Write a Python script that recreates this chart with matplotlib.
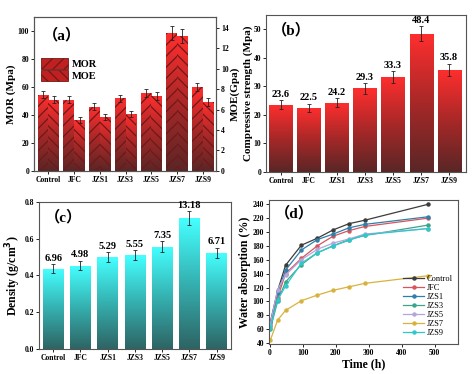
import numpy as np
import matplotlib
matplotlib.use("Agg")
import matplotlib.pyplot as plt
from matplotlib.colors import LinearSegmentedColormap
from matplotlib.patches import Patch

plt.rcParams['font.family'] = ['Liberation Serif', 'Noto Sans CJK SC', 'DejaVu Sans']
plt.rcParams['font.weight'] = 'bold'
plt.rcParams['axes.labelweight'] = 'bold'
plt.rcParams['hatch.linewidth'] = 0.9

categories = ['Control', 'JFC', 'JZS1', 'JZS3', 'JZS5', 'JZS7', 'JZS9']

# (a)
mor = [54.5, 51.0, 46.0, 52.0, 55.8, 98.5, 59.8]
mor_err = [2.5, 2.5, 2.3, 2.5, 2.8, 5.0, 3.0]
moe = [6.96, 4.98, 5.29, 5.55, 7.35, 13.18, 6.71]
moe_err = [0.35, 0.25, 0.28, 0.3, 0.38, 0.65, 0.38]

# (b)
comp = [23.6, 22.5, 24.2, 29.3, 33.3, 48.4, 35.8]
comp_err = [1.5, 1.4, 1.6, 1.8, 2.0, 2.6, 2.0]

# (c)
density = [0.436, 0.454, 0.499, 0.510, 0.557, 0.711, 0.523]
density_err = [0.025, 0.025, 0.028, 0.028, 0.03, 0.038, 0.027]
density_labels = ['6.96', '4.98', '5.29', '5.55', '7.35', '13.18', '6.71']

# (d)
time_h = [2, 24, 48, 96, 144, 192, 240, 288, 480]
water = {
    'Control': [70, 115, 152, 181, 191, 203, 212, 217, 240],
    'JFC':     [65, 105, 140, 162, 180, 194, 202, 208, 220],
    'JZS1':    [68, 112, 145, 174, 189, 197, 206, 211, 222],
    'JZS3':    [60, 100, 128, 153, 170, 180, 189, 195, 210],
    'JZS5':    [68, 117, 138, 160, 175, 184, 190, 197, 205],
    'JZS7':    [44, 73, 87, 101, 109, 116, 121, 126, 137],
    'JZS9':    [62, 102, 122, 155, 170, 180, 188, 196, 205],
}
water_colors = {
    'Control': '#3c3c3c', 'JFC': '#d9545c', 'JZS1': '#2f7fa8', 'JZS3': '#3aa58c',
    'JZS5': '#b4a6dc', 'JZS7': '#d9b23e', 'JZS9': '#2ec9c9',
}

red_cmap = LinearSegmentedColormap.from_list('r', ['#5a2626', '#a82828', '#ff2e2e'])
cyan_cmap = LinearSegmentedColormap.from_list('c', ['#2e6464', '#35b0b0', '#45ffff'])

fig = plt.figure(figsize=(4.74, 3.74), dpi=100)

def grad_bars(ax, x, h, width, cmap, hatch=None, hatch_color=None):
    grad = np.linspace(0, 1, 100).reshape(-1, 1)
    bars = ax.bar(x, h, width=width, color='none', edgecolor='none', zorder=2)
    for b in bars:
        x0, w, hh = b.get_x(), b.get_width(), b.get_height()
        im = ax.imshow(grad, cmap=cmap, origin='lower', aspect='auto',
                       extent=(x0, x0 + w, 0, hh), zorder=1)
        im.set_clip_path(b)
        if hatch:
            ax.bar(x0 + w / 2, hh, width=w, color='none', edgecolor=hatch_color,
                   hatch=hatch, linewidth=0, zorder=2)
    return bars

def style(ax, fs=5.5):
    for s in ax.spines.values():
        s.set_color('#555555')
        s.set_linewidth(0.8)
    ax.tick_params(labelsize=fs, width=0.6, length=2, pad=1.5)
    for lab in ax.get_xticklabels() + ax.get_yticklabels():
        lab.set_fontweight('bold')

x = np.arange(len(categories))

# ---- (a)
ax1 = fig.add_axes([0.0717, 0.543, 0.3843, 0.4115])
ax1b = ax1.twinx()
w = 0.42
grad_bars(ax1, x - w / 2, mor, w, red_cmap, hatch='///', hatch_color='#701818')
ax1.errorbar(x - w / 2, mor, yerr=mor_err, fmt='none', ecolor='#222222',
             elinewidth=0.6, capsize=1.5, capthick=0.6, zorder=3)
grad_bars(ax1b, x + w / 2, moe, w, red_cmap, hatch='\\\\\\', hatch_color='#701818')
ax1b.errorbar(x + w / 2, moe, yerr=moe_err, fmt='none', ecolor='#222222',
              elinewidth=0.6, capsize=1.5, capthick=0.6, zorder=3)
ax1.set_xlim(-0.56, 6.52)
ax1.set_ylim(0, 110)
ax1b.set_ylim(0, 15.05)
ax1.set_yticks([0, 20, 40, 60, 80, 100])
ax1b.set_yticks([0, 2, 4, 6, 8, 10, 12, 14])
ax1.set_xticks(x)
ax1.set_xticklabels(categories)
ax1.set_ylabel('MOR (Mpa)', fontsize=8, labelpad=1)
ax1b.set_ylabel('MOE(Gpa)', fontsize=8, labelpad=1)
style(ax1)
style(ax1b)
ax1.text(0.05, 0.93, '（a）', transform=ax1.transAxes, fontsize=11, fontweight='bold',
         va='top', ha='left')
h1 = Patch(facecolor='#c02020', edgecolor='#701818', hatch='///', linewidth=0.6)
h2 = Patch(facecolor='#c02020', edgecolor='#701818', hatch='\\\\\\', linewidth=0.6)
ax1.legend([h1, h2], ['MOR', 'MOE'], loc='upper left', bbox_to_anchor=(0.0, 0.78),
           frameon=False, prop={'weight': 'bold', 'size': 7.5},
           handlelength=2.6, handleheight=1.2, handletextpad=0.3, labelspacing=0.1,
           borderaxespad=0.3)

# ---- (b)
ax2 = fig.add_axes([0.561, 0.540, 0.422, 0.420])
grad_bars(ax2, x, comp, 0.82, red_cmap)
ax2.errorbar(x, comp, yerr=comp_err, fmt='none', ecolor='#222222',
             elinewidth=0.6, capsize=1.5, capthick=0.6, zorder=3)
for xi, v, e in zip(x, comp, comp_err):
    ax2.text(xi, v + e + 0.6, f'{v:.1f}', ha='center', va='bottom', fontsize=7.5,
             fontweight='bold')
ax2.set_xlim(-0.53, 6.6)
ax2.set_ylim(0, 55)
ax2.set_yticks([0, 10, 20, 30, 40, 50])
ax2.set_xticks(x)
ax2.set_xticklabels(categories)
ax2.set_ylabel('Compressive strength (Mpa)', fontsize=8, labelpad=0.5)
style(ax2)
ax2.text(0.03, 0.95, '（b）', transform=ax2.transAxes, fontsize=11, fontweight='bold',
         va='top', ha='left')

# ---- (c)
ax3 = fig.add_axes([0.0823, 0.0668, 0.4047, 0.3932])
grad_bars(ax3, x, density, 0.76, cyan_cmap)
ax3.errorbar(x, density, yerr=density_err, fmt='none', ecolor='#222222',
             elinewidth=0.6, capsize=1.5, capthick=0.6, zorder=3)
for xi, v, e, lab in zip(x, density, density_err, density_labels):
    ax3.text(xi, v + e + 0.008, lab, ha='center', va='bottom', fontsize=7.5,
             fontweight='bold')
ax3.set_xlim(-0.52, 6.52)
ax3.set_ylim(0, 0.8)
ax3.set_yticks([0.0, 0.2, 0.4, 0.6, 0.8])
ax3.set_xticks(x)
ax3.set_xticklabels(categories)
ax3.set_ylabel('Density (g/cm$^{\\mathbf{3}}$)', fontsize=8.5, labelpad=1)
style(ax3)
ax3.text(0.03, 0.95, '（c）', transform=ax3.transAxes, fontsize=11, fontweight='bold',
         va='top', ha='left')

# ---- (d)
ax4 = fig.add_axes([0.5675, 0.080, 0.3987, 0.385])
for name, vals in water.items():
    ax4.plot(time_h, vals, '-o', color=water_colors[name], markersize=2.2,
             linewidth=0.9, label=name)
ax4.set_xlim(-2, 570)
ax4.set_ylim(38.5, 246)
ax4.set_xticks([0, 100, 200, 300, 400, 500])
ax4.set_yticks(list(range(40, 241, 20)))
ax4.set_xlabel('Time (h)', fontsize=8.5, labelpad=1)
ax4.set_ylabel('Water absorption (%)', fontsize=8.5, labelpad=1)
style(ax4, fs=5.5)
ax4.text(0.03, 0.96, '（d）', transform=ax4.transAxes, fontsize=11, fontweight='bold',
         va='top', ha='left')
ax4.legend(loc='lower right', bbox_to_anchor=(1.0, 0.015), frameon=False,
           prop={'size': 6, 'weight': 'normal'},
           handlelength=2.6, handletextpad=0.3, labelspacing=0.12, borderaxespad=0.2)

fig.savefig('out.png', dpi=100)
